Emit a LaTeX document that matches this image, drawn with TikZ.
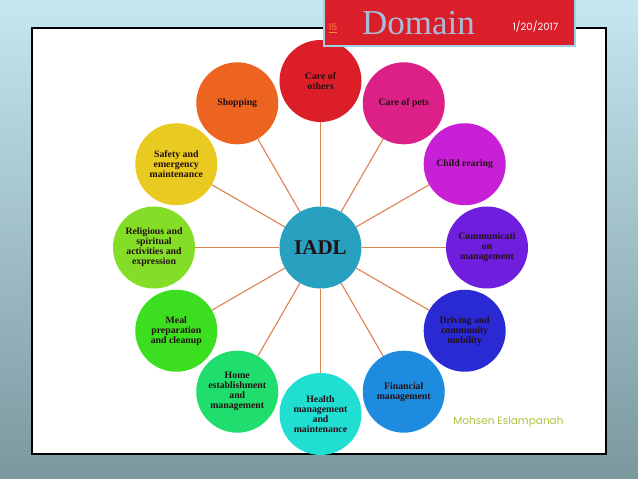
\documentclass[tikz,border=0pt]{standalone}
\usepackage{fontspec}
\usetikzlibrary{calc}
\setmainfont{Liberation Serif}
\newfontfamily\gothic{Poppins}
\definecolor{bgtop}{RGB}{198,230,240}
\definecolor{bgbot}{RGB}{122,152,158}
\definecolor{titlered}{RGB}{218,30,42}
\definecolor{titleedge}{RGB}{160,210,228}
\definecolor{domaintxt}{RGB}{168,188,215}
\definecolor{numorange}{RGB}{245,140,60}
\definecolor{linkcol}{RGB}{222,130,80}
\definecolor{labeltxt}{RGB}{35,15,20}
\definecolor{authorcol}{RGB}{170,195,70}
\definecolor{cOthers}{RGB}{220,30,40}
\definecolor{cPets}{RGB}{220,32,135}
\definecolor{cChild}{RGB}{200,32,215}
\definecolor{cComm}{RGB}{112,30,222}
\definecolor{cDrive}{RGB}{42,42,212}
\definecolor{cFin}{RGB}{30,140,222}
\definecolor{cHealth}{RGB}{32,222,210}
\definecolor{cHome}{RGB}{32,222,110}
\definecolor{cMeal}{RGB}{60,222,32}
\definecolor{cRelig}{RGB}{132,222,40}
\definecolor{cSafety}{RGB}{232,202,32}
\definecolor{cShop}{RGB}{236,100,32}
\definecolor{cIadl}{RGB}{40,160,192}
\tikzset{
  x=1pt,y=1pt,
  outer/.style={circle,minimum size=82pt,inner sep=0pt,align=center,
    text=labeltxt,font=\bfseries\fontsize{9.8}{10}\selectfont},
  hub/.style={circle,minimum size=82pt,inner sep=0pt,fill=cIadl,
    text=labeltxt,font=\bfseries\fontsize{21}{23}\selectfont},
  link/.style={draw=linkcol,line width=1.1pt}
}
\begin{document}
\begin{tikzpicture}
\clip (0,0) rectangle (638,479);
\shade[top color=bgtop,bottom color=bgbot] (0,0) rectangle (638,479);
\draw[line width=1.3pt,fill=white] (32,25) rectangle (606,451);
\coordinate (c) at (320.5,231.5);
\node[hub] (iadl) at (c) {IADL};
\node[outer,fill=cOthers] (others) at ($(c)+(90:166.5)$) {Care of\\others};
\node[outer,fill=cPets] (pets) at ($(c)+(60:166.5)$) {Care of pets};
\node[outer,fill=cChild] (child) at ($(c)+(30:166.5)$) {Child rearing};
\node[outer,fill=cComm] (comm) at ($(c)+(0:166.5)$) {Communicati\\on\\management};
\node[outer,fill=cDrive] (drive) at ($(c)+(-30:166.5)$) {Driving and\\community\\mobility};
\node[outer,fill=cFin] (fin) at ($(c)+(-60:166.5)$) {Financial\\management};
\node[outer,fill=cHealth] (health) at ($(c)+(-90:166.5)$) {Health\\management\\and\\maintenance};
\node[outer,fill=cHome] (home) at ($(c)+(-120:166.5)$) {Home\\establishment\\and\\management};
\node[outer,fill=cMeal] (meal) at ($(c)+(-150:166.5)$) {Meal\\preparation\\and cleanup};
\node[outer,fill=cRelig] (relig) at ($(c)+(180:166.5)$) {Religious and\\spiritual\\activities and\\expression};
\node[outer,fill=cSafety] (safety) at ($(c)+(150:166.5)$) {Safety and\\emergency\\maintenance};
\node[outer,fill=cShop] (shop) at ($(c)+(120:166.5)$) {Shopping};
\foreach \n in {others,pets,child,comm,drive,fin,health,home,meal,relig,safety,shop}
  \draw[link] (iadl) -- (\n);
% title box
\draw[titleedge,line width=2.5pt,fill=titlered] (324,433) rectangle (575,490);
\node[text=numorange,font=\gothic\fontsize{9}{10}\selectfont,anchor=base] (num) at (333,448) {\underline{15}};
\node[text=domaintxt,font=\fontsize{35}{38}\selectfont,anchor=base] (dom) at (418.5,444) {Domain};
\node[text=white,font=\gothic\fontsize{10}{12}\selectfont] (date) at (535.5,452) {1/20/2017};
\node[text=authorcol,font=\gothic\fontsize{10.5}{12}\selectfont] (author) at (508.5,57) {Mohsen Eslampanah};
\end{tikzpicture}
\end{document}
